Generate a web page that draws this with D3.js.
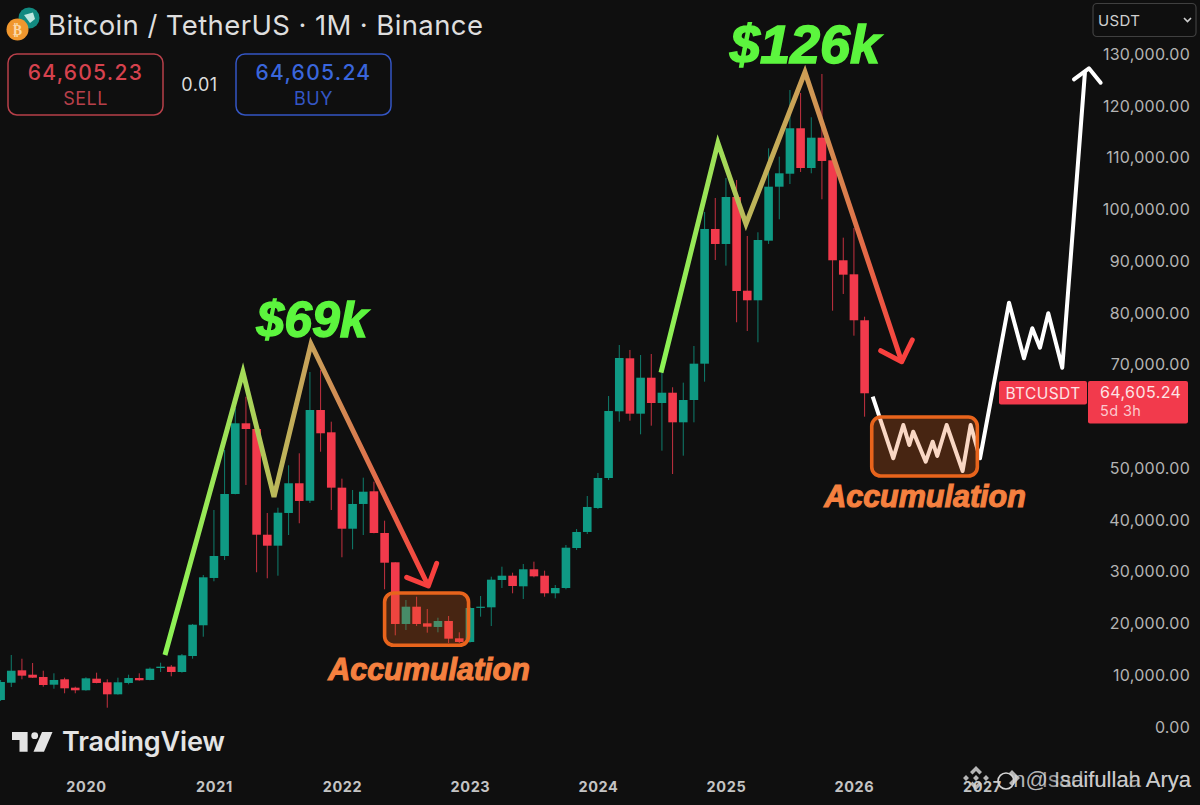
<!DOCTYPE html>
<html><head><meta charset="utf-8">
<script src="https://cdn.jsdelivr.net/npm/d3@7/dist/d3.min.js"></script>
<style>
html,body{margin:0;padding:0;background:#0f0f0f;overflow:hidden}
svg{display:block}
text{font-family:Inter,"Liberation Sans",sans-serif}
</style></head><body>
<svg id="c" width="1200" height="805"></svg>
<script>
// Monthly candles from May 2019, prices in thousands of USD
const opens=[5.12,8.46,10.86,10.01,9.57,8.08,9.12,7.50,7.00,9.24,8.54,6.22,8.41,9.37,8.99,11.30,11.56,10.53,13.62,19.56,28.70,32.95,44.93,58.59,57.49,37.06,34.94,41.26,47.0,43.63,61.16,56.85,46.15,38.22,43.0,45.45,37.39,31.73,19.81,23.15,19.94,19.23,20.39,17.04,16.33,23.03,23.03,28.31,29.14,27.09,30.38,29.14,25.74,26.76,34.49,37.59,42.22,48.02,60.91,71.15,60.45,67.40,62.51,64.50,58.78,63.09,70.11,96.14,93.24,102.32,84.21,82.36,93.88,104.31,106.82,115.60,107.92,113.78,109.41,90.09,87.38,78.50];
const closes=[8.60,10.78,9.82,9.43,8.02,8.99,7.38,7.00,9.31,8.41,6.22,8.54,9.37,8.93,11.17,11.56,10.53,13.76,19.67,28.83,32.95,44.93,58.59,57.49,37.06,34.94,41.31,47.0,43.58,61.16,56.66,46.15,38.22,43.0,45.37,37.39,31.65,19.81,23.15,19.81,19.29,20.39,16.97,16.33,22.90,23.15,28.37,29.14,27.15,30.38,29.02,25.74,26.76,34.55,37.59,42.42,48.02,60.97,71.21,60.45,67.40,62.51,64.50,58.78,63.09,70.11,96.14,93.24,102.32,84.16,82.36,94.01,104.31,106.90,115.60,107.92,113.78,109.28,90.09,87.31,78.50,64.39];
const highs=[8.99,13.82,13.10,12.27,10.78,10.28,9.43,7.69,9.51,10.40,9.12,9.43,10.01,10.28,11.40,12.33,11.88,14.01,19.81,29.28,41.84,53.43,61.55,63.73,57.68,41.26,42.28,50.47,52.79,68.50,68.89,58.90,47.89,45.70,48.08,47.31,39.77,31.73,24.44,25.08,22.71,21.02,21.35,18.20,23.09,25.22,28.95,30.88,29.72,31.40,31.85,30.11,27.34,35.07,38.16,44.54,48.99,63.86,73.72,72.76,71.79,71.98,68.31,65.55,66.44,73.53,99.42,102.13,105.99,105.6,94.79,95.50,111.73,110.11,123.0,122.42,117.72,126.09,109.47,94.46,96.33,79.19];
const lows=[4.93,7.63,9.12,9.37,7.69,7.30,6.42,6.42,6.92,8.35,3.63,6.15,8.15,8.85,8.93,10.53,9.70,10.40,13.10,17.35,28.06,32.17,44.87,46.67,29.80,28.64,29.14,37.0,39.27,43.19,53.10,41.84,32.70,34.24,37.0,37.33,26.51,17.62,18.65,19.42,18.13,18.20,16.14,16.14,16.19,21.22,19.42,26.76,25.74,24.64,28.83,25.08,24.77,26.51,34.11,37.20,42.03,47.63,58.90,59.09,56.46,58.13,53.30,48.79,52.33,58.78,66.63,90.15,89.05,78.11,76.43,74.24,93.24,98.01,104.83,107.15,106.90,101.88,80.35,83.58,75.52,59.87];

const priceTicks=[0,10,20,30,40,50,70,80,90,100,110,120,130];
const yearLabels=["2020","2021","2022","2023","2024","2025","2026","2027"];
const yearIndex=[8,20,32,44,56,68,80,92];

// Hand-drawn overlays: [month index, price in thousands]
const waveLeft=[[15.41,13.82],[22.72,68.50],[25.63,44.35],[29.10,73.91],[40.10,27.15]];
const headLeft=[[38.07,28.83],[40.10,27.15],[40.88,31.54]];
const waveRight=[[61.91,68.37],[67.25,112.76],[69.88,97.10],[75.41,126.47],[84.48,70.49]];
const headRight=[[82.51,72.62],[84.48,70.49],[85.47,74.69]];
const forecast=[[81.76,63.73],[83.69,51.83],[84.63,58.26],[85.19,54.40],[85.56,56.97],[86.73,51.17],[87.38,55.03],[87.81,52.27],[88.69,58.26],[90.19,49.37],[90.94,58.26],[91.82,51.83],[94.54,81.90],[95.94,71.15],[96.72,76.95],[97.44,73.20],[98.22,79.85],[99.53,69.33],[101.66,126.47]];
const headForecast=[[100.63,125.06],[102.03,127.19],[103.13,124.41]];
const boxes=[{x0:36.0,x1:43.87,hi:25.8,lo:15.7},{x0:81.67,x1:91.57,hi:59.8,lo:48.4}];

const GREEN="#0f9a84",RED="#f23a4c",ORANGE="#e8641c";
const svg=d3.select("#c");
const x=d3.scaleLinear().domain([0,81]).range([0.6,864.6]);
const y=d3.scaleLinear().domain([0,130]).range([726.5,53.75]);
const line=d3.line().x(d=>x(d[0])).y(d=>y(d[1]));

svg.append("rect").attr("width",1200).attr("height",805).attr("fill","#0f0f0f");

// axes
const yAxis=d3.axisRight(y).tickValues(priceTicks).tickSize(0).tickPadding(0).tickFormat(d=>d3.format(",.2f")(d*1000));
const gy=svg.append("g").attr("transform","translate(1190,0.6)").call(yAxis);
gy.select(".domain").remove();
gy.selectAll("text").attr("text-anchor","end").attr("x",0).attr("fill","#b4b4b4").style("font-size","16px").style("letter-spacing","0.25px").style("font-family","Inter");
const xAxis=d3.axisBottom(x).tickValues(yearIndex).tickSize(0).tickPadding(0).tickFormat((d,i)=>yearLabels[i]);
const gx=svg.append("g").attr("transform","translate(0,782)").call(xAxis);
gx.select(".domain").remove();
gx.selectAll("text").attr("fill","#c4c4c4").attr("y",0).attr("dy","0.71em").style("font-size","14.5px").style("font-weight","700").style("letter-spacing","0.6px").style("font-family","Inter");

// candles
const idx=d3.range(opens.length);
const col=i=>closes[i]>=opens[i]?GREEN:RED;
svg.append("g").selectAll("line").data(idx).join("line")
  .attr("x1",i=>x(i)).attr("x2",i=>x(i)).attr("y1",i=>y(highs[i])).attr("y2",i=>y(lows[i]))
  .attr("stroke",col).attr("stroke-width",1).attr("stroke-opacity",.8);
svg.append("g").selectAll("rect").data(idx).join("rect")
  .attr("x",i=>x(i)-4.3).attr("width",8.6)
  .attr("y",i=>Math.min(y(opens[i]),y(closes[i])))
  .attr("height",i=>Math.max(1.2,Math.abs(y(opens[i])-y(closes[i]))))
  .attr("fill",col);

// gradients
const defs=svg.append("defs");
function grad(id,stops){
  const g=defs.append("linearGradient").attr("id",id).attr("x1",0).attr("x2",1).attr("y1",0).attr("y2",0);
  stops.forEach(s=>g.append("stop").attr("offset",s[0]).attr("stop-color",s[1]));
}
grad("gl",[[0,"#8cf455"],[.3,"#a4dc58"],[.42,"#bcb85a"],[.55,"#c8a25a"],[.72,"#d88050"],[1,"#f8403e"]]);
grad("gr",[[0,"#8cf455"],[.25,"#a0de58"],[.35,"#bcb85a"],[.58,"#cca056"],[.78,"#dc7c4c"],[1,"#f8403e"]]);

// forecast path (under the boxes)
svg.append("path").attr("d",line(forecast)).attr("fill","none").attr("stroke","#fff").attr("stroke-width",4).attr("stroke-linejoin","round");
svg.append("path").attr("d",line(headForecast)).attr("fill","none").attr("stroke","#fff").attr("stroke-width",4).attr("stroke-linecap","round").attr("stroke-linejoin","round");

// waves
svg.append("path").attr("d",line(waveLeft)).attr("fill","none").attr("stroke","url(#gl)").attr("stroke-width",5);
svg.append("path").attr("d",line(headLeft)).attr("fill","none").attr("stroke","#f8403e").attr("stroke-width",5).attr("stroke-linecap","round").attr("stroke-linejoin","round");
svg.append("path").attr("d",line(waveRight)).attr("fill","none").attr("stroke","url(#gr)").attr("stroke-width",5);
svg.append("path").attr("d",line(headRight)).attr("fill","none").attr("stroke","#f8403e").attr("stroke-width",5).attr("stroke-linecap","round").attr("stroke-linejoin","round");

// accumulation boxes
svg.append("g").selectAll("rect").data(boxes).join("rect")
  .attr("x",d=>x(d.x0)).attr("width",d=>x(d.x1)-x(d.x0))
  .attr("y",d=>y(d.hi)).attr("height",d=>y(d.lo)-y(d.hi))
  .attr("rx",9).attr("fill","rgba(232,100,28,.26)").attr("stroke",ORANGE).attr("stroke-width",3.6);

// callouts
function call(t,cx,base,size,fill,sw){
  svg.append("text").text(t).attr("x",cx).attr("y",base).attr("text-anchor","middle")
    .attr("fill",fill).attr("stroke",fill).attr("stroke-width",sw)
    .style("font-family","'Liberation Sans'").style("font-weight","700").style("font-style","italic").style("font-size",size+"px");
}
call("$69k",312,337,50,"#5cf53e",1.4);
call("$126k",805,63,54,"#5cf53e",1.6);
call("Accumulation",429,680,30.5,"#f5803f",1.1);
call("Accumulation",925,507,30.5,"#f5803f",1.1);

// header
svg.append("circle").attr("cx",29).attr("cy",18).attr("r",10.5).attr("fill","#128a80");
svg.append("path").attr("d","M24 15 L33 12.5 L35 19 L30 23 Z").attr("fill","#bfe8e0");
svg.append("circle").attr("cx",17.5).attr("cy",29.5).attr("r",11).attr("fill","#f0972e");
svg.append("text").text("₿").attr("x",17.5).attr("y",34.5).attr("text-anchor","middle").attr("fill","#fbd9a8").style("font-size","14px").style("font-weight","700").style("font-family","'DejaVu Sans'");
svg.append("text").text("Bitcoin / TetherUS · 1M · Binance").attr("x",48).attr("y",35).attr("fill","#dedede").style("font-size","27.5px").attr("textLength",435);

function quote(x0,w,stroke,c1,c2,price,lab){
  svg.append("rect").attr("x",x0).attr("y",54).attr("width",w).attr("height",61).attr("rx",9).attr("fill","none").attr("stroke",stroke).attr("stroke-width",1.5);
  svg.append("text").text(price).attr("x",x0+w/2).attr("y",80).attr("text-anchor","middle").attr("fill",c1).style("font-size","21px").style("font-weight","500").style("letter-spacing","1.3px");
  svg.append("text").text(lab).attr("x",x0+w/2).attr("y",105).attr("text-anchor","middle").attr("fill",c2).style("font-size","18px").style("letter-spacing",".5px");
}
quote(8,155,"#b8404a","#d6424e","#b8404a","64,605.23","SELL");
quote(236,155,"#3456c4","#3a66dc","#3456c4","64,605.24","BUY");
svg.append("text").text("0.01").attr("x",199.5).attr("y",91).attr("text-anchor","middle").attr("fill","#dcdcdc").style("font-size","18px").style("letter-spacing",".5px");

// currency selector
svg.append("rect").attr("x",1093).attr("y",3.5).attr("width",103).attr("height",33).attr("rx",4).attr("fill","none").attr("stroke","#404040").attr("stroke-width",1.2);
svg.append("text").text("USDT").attr("x",1098).attr("y",26).attr("fill","#cfcfcf").style("font-size","15px").style("letter-spacing",".4px");
svg.append("path").attr("d","M1184 18 L1187.5 21.5 L1191 18").attr("fill","none").attr("stroke","#cfcfcf").attr("stroke-width",1.6);

// price tag
svg.append("rect").attr("x",999).attr("y",381).attr("width",88).attr("height",23.5).attr("rx",2).attr("fill",RED);
svg.append("rect").attr("x",1088).attr("y",381).attr("width",100).attr("height",42.5).attr("rx",2).attr("fill",RED);
svg.append("text").text("BTCUSDT").attr("x",1043).attr("y",398.5).attr("text-anchor","middle").attr("fill","#fde3e5").style("font-size","15.5px").style("letter-spacing",".4px");
svg.append("text").text("64,605.24").attr("x",1100).attr("y",398).attr("fill","#fde3e5").style("font-size","16px").style("letter-spacing",".4px");
svg.append("text").text("5d 3h").attr("x",1100).attr("y",416).attr("fill","#fbc9cd").style("font-size","14.5px").style("letter-spacing",".4px");

// TradingView mark
const logo=svg.append("g").attr("fill","#e4e4e4");
logo.append("path").attr("d","M12 732 H27.6 V751.7 H19.5 V740 H12 Z");
logo.append("circle").attr("cx",34.7).attr("cy",735.7).attr("r",3.4);
logo.append("path").attr("d","M42 732 H52.5 L44 751.7 H33.5 Z");
svg.append("text").text("TradingView").attr("x",62).attr("y",751).attr("fill","#e4e4e4").style("font-size","27px").style("font-weight","600").attr("textLength",163);

// watermark (two captions stamped over each other in the source picture)
const wm=svg.append("g").attr("fill","#d4d4d4").attr("fill-opacity",.85);
wm.append("path").attr("d","M976 766 L982 772 L979.5 774.5 L976 771 L972.5 774.5 L970 772 Z M976 790 L970 784 L972.5 781.5 L976 785 L979.5 781.5 L982 784 Z M976 775 L979 778 L976 781 L973 778 Z M966 775 L969 778 L966 781 L963 778 Z M986 775 L989 778 L986 781 L983 778 Z");
wm.append("circle").attr("cx",1006).attr("cy",781).attr("r",8).attr("fill","none").attr("stroke","#d4d4d4").attr("stroke-width",1.6);
wm.append("path").attr("d","M1012 770 L1020 778 L1012 786 L1009 783 L1014 778 L1009 773 Z");
svg.append("text").text("n@ Isaifullah Arya").attr("x",1191).attr("y",787).attr("text-anchor","end").attr("fill","#d4d4d4").attr("fill-opacity",.85).style("font-size","22px").style("font-family","'Liberation Sans'");
svg.append("text").text("Isadifullaa Arya").attr("x",1191).attr("y",787).attr("text-anchor","end").attr("fill","#d4d4d4").attr("fill-opacity",.7).style("font-size","22px").style("font-family","'Liberation Sans'");
</script>
</body></html>
